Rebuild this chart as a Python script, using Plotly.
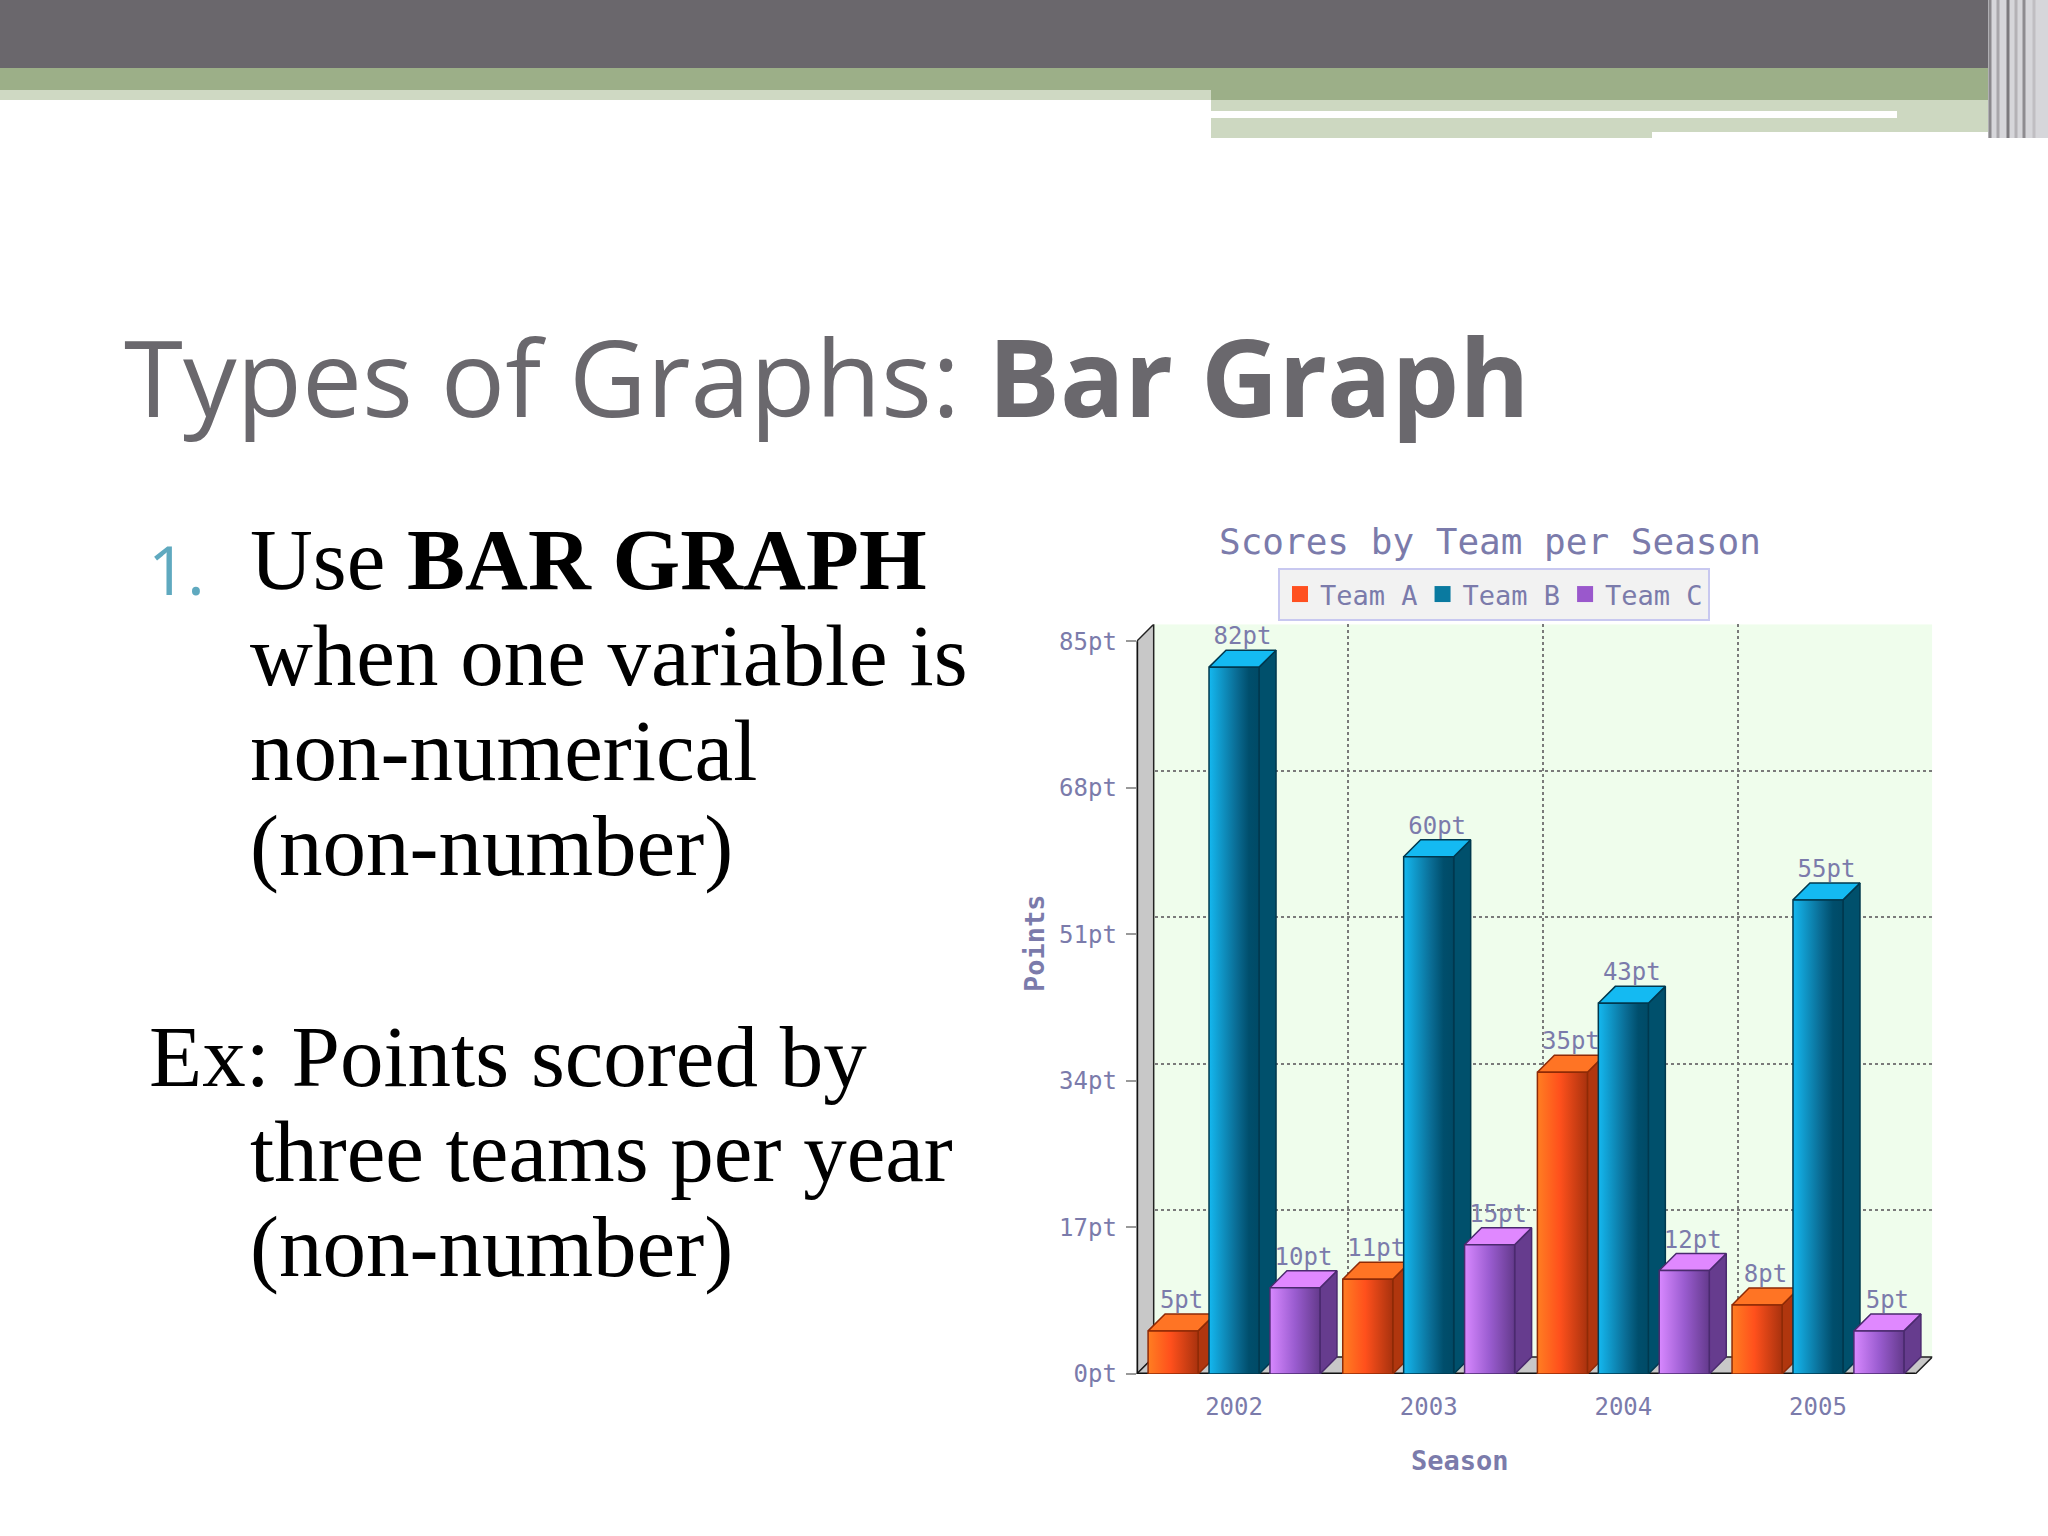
import plotly.graph_objects as go

# chart data
seasons = ["2002", "2003", "2004", "2005"]
teams = ["Team A", "Team B", "Team C"]
team_a = [5, 11, 35, 8]
team_b = [82, 60, 43, 55]
team_c = [10, 15, 12, 5]
y_ticks = [0, 17, 34, 51, 68, 85]

W, H = 2048, 1536


def px(x):
    return x / W


def py(y):
    return 1 - y / H


# 3d look: depth of the box in axis units
DX = 0.0873
DY = 1.97
BAR_W = 0.257
OFFS = [-0.313, 0.0, 0.313]
YTOP = 85

front_scales = [
    [[0, "#ff7e22"], [0.45, "#ff501c"], [1, "#a8320e"]],
    [[0, "#14b8f0"], [0.55, "#0a6c94"], [0.8, "#004e6c"], [1, "#004a66"]],
    [[0, "#d888ff"], [0.5, "#9a5cd0"], [1, "#643a8c"]],
]
side_cols = ["#b0360e", "#00506c", "#663c8e"]
top_cols = ["#ff7424", "#14baf2", "#e088ff"]
edge_cols = ["#8e2a06", "#00384e", "#4a2a6e"]
legend_cols = ["#ff5020", "#0a7aa0", "#9a58cc"]
txt_col = "#7b7bab"
mono = "DejaVu Sans Mono"

fig = go.Figure()

values = [team_a, team_b, team_c]
for k in range(len(seasons)):
    for j in range(len(teams)):
        v = values[j][k]
        c = k + OFFS[j]
        x0, x1 = c - BAR_W / 2, c + BAR_W / 2
        # side face
        fig.add_trace(go.Scatter(
            x=[x1, x1 + DX, x1 + DX, x1, x1], y=[0, DY, v + DY, v, 0],
            fill="toself", fillcolor=side_cols[j], mode="lines",
            line=dict(color=edge_cols[j], width=1.5), showlegend=False, hoverinfo="skip"))
        # top face
        fig.add_trace(go.Scatter(
            x=[x0, x1, x1 + DX, x0 + DX, x0], y=[v, v, v + DY, v + DY, v],
            fill="toself", fillcolor=top_cols[j], mode="lines",
            line=dict(color=edge_cols[j], width=1.5), showlegend=False, hoverinfo="skip"))
        # front face
        fig.add_trace(go.Scatter(
            x=[x0, x1, x1, x0, x0], y=[0, 0, v, v, 0],
            fill="toself",
            fillgradient=dict(type="horizontal", colorscale=front_scales[j], start=x0, stop=x1),
            mode="lines", line=dict(color=edge_cols[j], width=1.5),
            showlegend=False, hoverinfo="skip"))
        fig.add_trace(go.Scatter(
            x=[c + DX / 2], y=[v + DY], mode="text", text=[f"{v}pt"],
            textposition="top center", textfont=dict(family=mono, size=24, color=txt_col),
            showlegend=False, hoverinfo="skip"))

# legend entries
for j, name in enumerate(teams):
    fig.add_trace(go.Scatter(
        x=[None], y=[None], mode="markers", name=name,
        marker=dict(symbol="square", size=16, color=legend_cols[j])))

# back-plane helper axes (for the dotted grid)
fig.add_trace(go.Scatter(x=[], y=[], xaxis="x2", yaxis="y2", showlegend=False, hoverinfo="skip"))

shapes = []
# back wall fill
shapes.append(dict(type="rect", xref="x", yref="y", x0=-0.5 + DX, x1=3.5 + DX, y0=DY, y1=YTOP + DY,
                   fillcolor="#effdec", line=dict(width=0), layer="below"))
# left wall
shapes.append(dict(type="path", xref="x", yref="y", layer="between",
                   path=f"M -0.5,0 L {-0.5 + DX},{DY} L {-0.5 + DX},{YTOP + DY} L -0.5,{YTOP} Z",
                   fillcolor="#c8c8c8", line=dict(color="#222222", width=1.5)))
# floor
shapes.append(dict(type="path", xref="x", yref="y", layer="between",
                   path=f"M -0.5,0 L 3.5,0 L {3.5 + DX},{DY} L {-0.5 + DX},{DY} Z",
                   fillcolor="#c8c8c8", line=dict(color="#222222", width=1.5)))
shapes.append(dict(type="line", xref="x", yref="y", layer="between",
                   x0=-0.5, x1=3.5, y0=0, y1=0, line=dict(color="#111111", width=3)))
shapes.append(dict(type="line", xref="x", yref="y", layer="between",
                   x0=-0.5, x1=-0.5, y0=0, y1=YTOP, line=dict(color="#111111", width=3)))

# slide header bands
hdr = [
    (0, 2048, 0, 68, "#6a676c"),
    (0, 2048, 68, 90, "#9caf88"),
    (0, 1211, 90, 100, "#cfd9c3"),
    (1211, 1988, 90, 100, "#9caf88"),
    (1211, 1988, 100, 111, "#cdd8c1"),
    (1897, 1988, 111, 118, "#cdd8c1"),
    (1211, 1988, 118, 132, "#cdd8c1"),
    (1211, 1652, 132, 138, "#cdd8c1"),
    (1988, 2048, 0, 138, "#d6d6da"),
]
for x0, x1, y0, y1, col in hdr:
    shapes.append(dict(type="rect", xref="paper", yref="paper", x0=px(x0), x1=px(x1),
                       y0=py(y1), y1=py(y0), fillcolor=col, line=dict(width=0), layer="below"))
for xl, col in [(1990, "#8a888c"), (1998, "#a8a6aa"), (2008, "#7c7a7e"), (2016, "#b4b2b6"),
                (2024, "#8e8c90"), (2034, "#c0bec2")]:
    shapes.append(dict(type="line", xref="paper", yref="paper", x0=px(xl), x1=px(xl),
                       y0=py(138), y1=1, line=dict(color=col, width=3), layer="below"))

annotations = []
# slide title
annotations.append(dict(
    text="Types of Graphs: <b>Bar Graph</b>", x=px(122), y=py(376), xref="paper", yref="paper",
    xanchor="left", yanchor="middle", showarrow=False,
    font=dict(family="Open Sans", size=107, color="#6a686d")))

serif = "Liberation Serif"
body = [
    (248, 590, "Use <b>BAR GRAPH</b>"),
    (248, 686, "when one variable is"),
    (248, 781, "non-numerical"),
    (248, 876, "(non-number)"),
    (147, 1087, "Ex: Points scored by"),
    (248, 1182, "three teams per year"),
    (248, 1277, "(non-number)"),
]
for x, base, t in body:
    annotations.append(dict(
        text=t, x=px(x), y=py(base - 31), xref="paper", yref="paper", xanchor="left",
        yanchor="middle", showarrow=False, font=dict(family=serif, size=87, color="#000000")))
annotations.append(dict(
    text="1.", x=px(146), y=py(590 - 22), xref="paper", yref="paper", xanchor="left",
    yanchor="middle", showarrow=False, font=dict(family="Open Sans", size=68, color="#5fa9bf")))

# chart title and axis titles
annotations.append(dict(
    text="Scores by Team per Season", x=px(1490), y=py(542), xref="paper", yref="paper",
    xanchor="center", yanchor="middle", showarrow=False,
    font=dict(family=mono, size=36, color=txt_col)))
annotations.append(dict(
    text="<b>Points</b>", x=px(1034), y=py(943), xref="paper", yref="paper", textangle=-90,
    xanchor="center", yanchor="middle", showarrow=False,
    font=dict(family=mono, size=27, color=txt_col)))
annotations.append(dict(
    text="<b>Season</b>", x=px(1460), y=py(1460), xref="paper", yref="paper",
    xanchor="center", yanchor="middle", showarrow=False,
    font=dict(family=mono, size=27, color=txt_col)))

x_dom = [px(1136.7), px(1932.3)]
y_dom = [py(1374), py(624.3)]

fig.update_layout(
    width=W, height=H,
    margin=dict(l=0, r=0, t=0, b=0),
    paper_bgcolor="white", plot_bgcolor="rgba(0,0,0,0)",
    shapes=shapes, annotations=annotations,
    showlegend=True,
    legend=dict(orientation="h", x=px(1494), y=py(568), xanchor="center", yanchor="top",
                bgcolor="#f2f2f2", bordercolor="#c8c8f0", borderwidth=2,
                font=dict(family=mono, size=27, color=txt_col), itemwidth=30,
                itemclick=False),
    xaxis=dict(domain=x_dom, range=[-0.5, 3.5 + DX], tickvals=list(range(len(seasons))),
               ticktext=seasons, showgrid=False, zeroline=False, ticks="", showline=False,
               ticklabelstandoff=16, tickfont=dict(family=mono, size=24, color=txt_col),
               automargin=False, fixedrange=True),
    yaxis=dict(domain=y_dom, range=[0, YTOP + DY], tickvals=y_ticks,
               ticktext=[f"{v}pt" for v in y_ticks], showgrid=False, zeroline=False,
               ticks="outside", ticklen=10, tickwidth=2, tickcolor="#999999",
               ticklabelstandoff=4, automargin=False,
               tickfont=dict(family=mono, size=24, color=txt_col), fixedrange=True),
    xaxis2=dict(overlaying="x", anchor="y2", range=[-0.5 - DX, 3.5], tickvals=[0.5, 1.5, 2.5, 3.5],
                showgrid=True, gridcolor="#7a7a7a", gridwidth=2, griddash="dot",
                showticklabels=False, ticks="", zeroline=False, fixedrange=True),
    yaxis2=dict(overlaying="y", anchor="x2", range=[-DY, YTOP], tickvals=y_ticks[1:],
                showgrid=True, gridcolor="#7a7a7a", gridwidth=2, griddash="dot",
                showticklabels=False, ticks="", zeroline=False, fixedrange=True),
)

# drop the page margin so the figure sits at the window origin
fig.write_html("out.html", config={"displayModeBar": False},
               post_script="document.body.style.margin='0px';")
